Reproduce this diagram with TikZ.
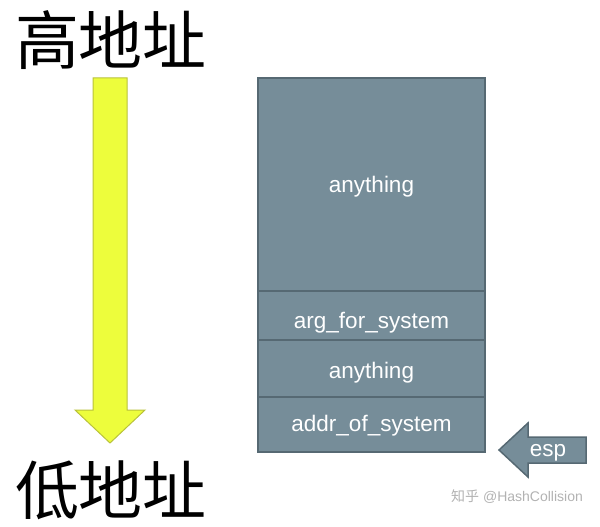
\documentclass[tikz,border=0pt]{standalone}
\usepackage{fontspec}
\setmainfont{Liberation Sans}
\newfontfamily\cjk{Noto Sans CJK SC}
\begin{document}
\begin{tikzpicture}[x=1pt,y=-1pt,
  cell/.style={draw=boxedge,fill=boxfill,line width=1.5pt},
  lbl/.style={text=white,font=\fontsize{22.5}{26}\selectfont},
  big/.style={font=\cjk\fontsize{64}{68}\selectfont}]
\definecolor{boxfill}{HTML}{768D99}
\definecolor{boxedge}{HTML}{566973}
\definecolor{yel}{HTML}{EDFD3C}
\definecolor{yeledge}{HTML}{B9C23A}
\useasboundingbox (0,0) rectangle (600,527);
\node[big] (hi) at (111,40) {高地址};
\node[big] (lo) at (111,490) {低地址};
\draw[fill=yel,draw=yeledge,line width=1pt] (93,78) -- (127,78) -- (127,410) -- (145,410) -- (110,443) -- (75,410) -- (93,410) -- cycle;
\draw[cell] (258,78) rectangle (485,291);
\draw[cell] (258,291) rectangle (485,340);
\draw[cell] (258,340) rectangle (485,397);
\draw[cell] (258,397) rectangle (485,452);
\node[lbl] (a1) at (371.5,187) {anything};
\node[lbl] (a2) at (371.5,323) {arg\_for\_system};
\node[lbl] (a3) at (371.5,373) {anything};
\node[lbl] (a4) at (371.5,426) {addr\_of\_system};
\draw[cell] (499,450) -- (528,423) -- (528,437) -- (586,437) -- (586,463) -- (528,463) -- (528,477) -- cycle;
\node[lbl] (esp) at (548,453) {esp};
\node[text=black!30,font=\fontsize{14}{16}\selectfont] (wm) at (517,497) {{\cjk 知乎} @HashCollision};
\end{tikzpicture}
\end{document}
